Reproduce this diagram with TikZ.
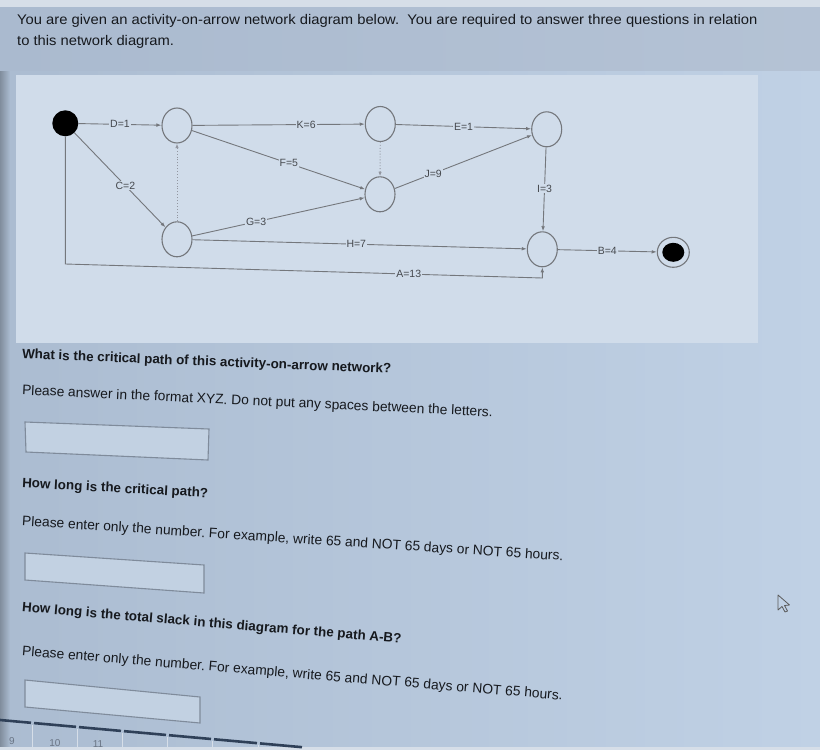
\documentclass[tikz,border=0pt]{standalone}
\usepackage{fontspec}
\setmainfont{Liberation Sans}
\usetikzlibrary{shapes.geometric,arrows.meta}
\definecolor{bgl}{HTML}{ABBCD1}
\definecolor{bgr}{HTML}{C0D1E5}
\definecolor{panel}{HTML}{D0DCEA}
\definecolor{hdr}{HTML}{AABACF}
\definecolor{topstrip}{HTML}{D6DEE8}
\definecolor{linegray}{HTML}{74777C}
\definecolor{dotgray}{HTML}{9296A0}
\definecolor{labgray}{HTML}{45484D}
\definecolor{txt}{HTML}{16191E}
\definecolor{boxline}{HTML}{7F8B9B}
\definecolor{boxfill}{HTML}{C2D1E2}
\definecolor{barc}{HTML}{2F4058}
\definecolor{numc}{HTML}{6A7585}
\begin{document}
\begin{tikzpicture}[x=1pt,y=-1pt,
  ev/.style={draw=linegray, line width=1.1pt, ellipse, minimum width=30pt, minimum height=35pt, inner sep=0pt, fill=panel},
  startn/.style={circle, fill=black, minimum size=26pt, inner sep=0pt},
  endo/.style={draw=linegray, line width=1.1pt, ellipse, minimum width=32pt, minimum height=30pt, inner sep=0pt, fill=panel},
  endi/.style={ellipse, fill=black, minimum width=22pt, minimum height=19pt, inner sep=0pt},
  act/.style={draw=linegray, line width=0.9pt, -{Latex[length=5pt,width=3.6pt]}},
  dum/.style={draw=dotgray, line width=0.9pt, dotted, -{Latex[length=4.5pt,width=3.4pt]}},
  lab/.style={fill=panel, inner sep=1pt, font=\fontsize{10.5}{12}\selectfont, text=labgray},
  hd/.style={anchor=west, inner sep=0pt, font=\fontsize{14}{16}\selectfont, text=txt},
  qb/.style={anchor=west, inner sep=0pt, font=\fontsize{13.4}{15}\selectfont\bfseries, text=txt},
  qn/.style={anchor=west, inner sep=0pt, font=\fontsize{13.8}{15}\selectfont, text=txt},
  inbox/.style={draw=boxline, line width=1.1pt, fill=boxfill},
  seg/.style={draw=barc, line width=2.6pt},
  sep/.style={draw=topstrip, line width=0.8pt},
  num/.style={font=\fontsize{10}{12}\selectfont, text=numc, inner sep=0pt}
]
\useasboundingbox (0,0) rectangle (820,750);
% background
\shade[left color=bgl, right color=bgr] (0,0) rectangle (820,750);
\shade[left color=black!25!bgl, right color=bgl] (0,0) rectangle (10,750);
\fill[topstrip] (0,0) rectangle (820,7);
\shade[left color=hdr, right color=hdr!88!white] (0,7) rectangle (820,70);
\fill[panel] (16,75) rectangle (758,343);

% header text
\node[hd, xscale=1.055] (h1) at (17,21) {You are given an activity-on-arrow network diagram below.\ \ You are required to answer three questions in relation};
\node[hd, xscale=1.055] (h2) at (17,42) {to this network diagram.};

% network nodes
\node[startn] (s) at (65.3,123.3) {};
\node[ev] (n1) at (177,125.5) {};
\node[ev] (n2) at (380.3,124) {};
\node[ev] (n3) at (380,194.3) {};
\node[ev] (n4) at (177,239.3) {};
\node[ev] (n5) at (546.7,129.3) {};
\node[ev] (n6) at (542.3,249.3) {};
\node[endo] (e) at (673.3,252.3) {};
\node[endi] (ei) at (e.center) {};
\coordinate (a1) at (65.3,264);
\coordinate (a2) at (542.3,278);

% activities
\draw[act] (s) -- node[lab,pos=0.5]{D=1} (n1);
\draw[act] (n1) -- node[lab,pos=0.66]{K=6} (n2);
\draw[act] (n1) -- node[lab,pos=0.56]{F=5} (n3);
\draw[act] (s) -- node[lab,pos=0.56]{C=2} (n4);
\draw[act] (n4) -- node[lab,pos=0.37]{G=3} (n3);
\draw[act] (n4) -- node[lab,pos=0.49]{H=7} (n6);
\draw[act] (n2) -- node[lab,pos=0.5]{E=1} (n5);
\draw[act] (n3) -- node[lab,pos=0.28]{J=9} (n5);
\draw[act] (n5) -- node[lab,pos=0.49]{I=3} (n6);
\draw[act] (n6) -- node[lab,pos=0.5]{B=4} (e);
\draw[act] (s) -- (a1) -- node[lab,pos=0.72]{A=13} (a2) -- (n6);
\draw[dum] (n4) -- (n1);
\draw[dum] (n2) -- (n3);

% questions
\node[qb, rotate=-2.3] (q1) at (22,355) {What is the critical path of this activity-on-arrow network?};
\node[qn, rotate=-2.7] (q1b) at (22,391) {Please answer in the format XYZ.\ Do not put any spaces between the letters.};
\draw[inbox] (25,422) -- (209,429) -- (208,460) -- (26,452) -- cycle;

\node[qb, rotate=-3.1] (q2) at (22,484) {How long is the critical path?};
\node[qn, rotate=-3.7] (q2b) at (22,522) {Please enter only the number.\ For example, write 65 and NOT 65 days or NOT 65 hours.};
\draw[inbox] (25,553) -- (204,565) -- (204,593) -- (25,580) -- cycle;

\node[qb, rotate=-4.8] (q3) at (22,608) {How long is the total slack in this diagram for the path A-B?};
\node[qn, rotate=-4.7] (q3b) at (22,652) {Please enter only the number.\ For example, write 65 and NOT 65 days or NOT 65 hours.};
\draw[inbox] (25,680) -- (200,697) -- (200,723) -- (25,707) -- cycle;

% bottom tab bar
\fill[topstrip] (0,747) rectangle (820,750);
\foreach \xa/\xb in {0/31,34/76,79/121,124/166,169/211,214/257,260/302}{
  \draw[seg] (\xa,{720+0.09*\xa}) -- (\xb,{720+0.09*\xb});
}
\foreach \xs in {32.5,77.5,122.5,167.5,212.5,258.5}{
  \draw[sep] (\xs,{722+0.09*\xs}) -- (\xs,750);
}
\node[num] (t9) at (12,741) {9};
\node[num] (t10) at (55,743) {10};
\node[num] (t11) at (98,744) {11};

% mouse pointer
\draw[draw=black!65, line width=0.8pt, fill=bgr, line join=round]
  (778,595) -- (778,610) -- (782,606.5) -- (785,612) -- (787.5,611) -- (784.5,605.5) -- (789.5,605) -- cycle;
\end{tikzpicture}
\end{document}
